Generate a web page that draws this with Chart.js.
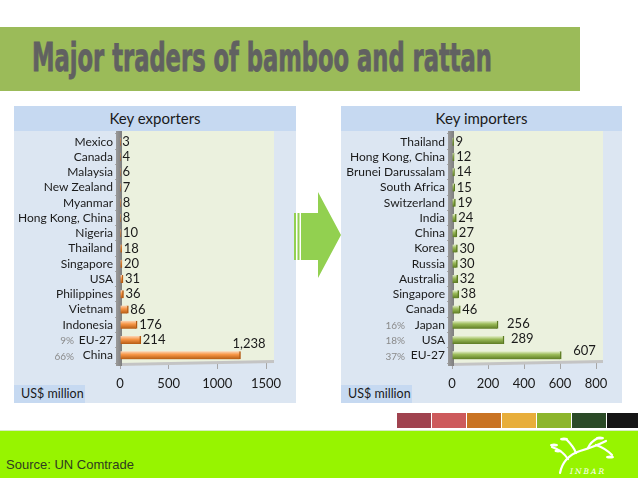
<!DOCTYPE html>
<html lang="en">
<head>
<meta charset="UTF-8">
<title>Major traders of bamboo and rattan</title>
<script src="https://cdn.jsdelivr.net/npm/chart.js"></script>
<style>
  body {
    margin: 0;
    width: 638px;
    height: 478px;
    overflow: hidden;
    position: relative;
    background: #fff;
    font-family: Lato, sans-serif;
  }
  .banner {
    position: absolute;
    left: 0; top: 27px;
    width: 580px; height: 64px;
    background: #9bbb59;
  }
  .title {
    position: absolute;
    left: 32px; top: 38px;
    font-family: 'DejaVu Sans Condensed', sans-serif;
    font-weight: bold;
    font-size: 39px;
    line-height: 1;
    color: #616161;
    white-space: nowrap;
    transform-origin: left top;
    -webkit-text-stroke: 0.8px #616161;
  }
  .panel {
    position: absolute;
    top: 106px;
    height: 297px;
    background: #dce6f2;
  }
  .panel h3 {
    margin: 0;
    height: 25px;
    line-height: 25px;
    background: #c6d9f1;
    text-align: center;
    font-weight: normal;
    font-size: 15px;
    color: #1a1a1a;
  }
  .box {
    position: absolute;
    left: 0; top: 25px;
    height: 272px;
  }
  .unit {
    position: absolute;
    left: 0; bottom: 0;
    width: 71px; height: 18px;
    padding-left: 7px;
    box-sizing: border-box;
    background: #c6d9f1;
    font-size: 12.5px;
    line-height: 18px;
    white-space: nowrap;
    color: #1a1a1a;
  }
  .swatch {
    position: absolute;
    top: 413px;
    height: 15px;
    width: 34px;
  }
  .footer {
    position: absolute;
    left: 0; top: 430px;
    width: 638px; height: 48px;
    background: #97f400;
    border-top: 1px solid #d6ecc0;
  }
  .source {
    position: absolute;
    left: 6px; top: 26px;
    font-family: 'Liberation Sans', Arial, sans-serif;
    font-size: 13px;
    color: #2f3b20;
  }
</style>
</head>
<body>
  <div class="banner"></div>
  <div class="title" id="title">Major traders of bamboo and rattan</div>

  <div class="panel" style="left:14px; width:282px;">
    <h3>Key exporters</h3>
    <div class="box" style="width:282px;"><canvas id="exportChart"></canvas></div>
    <div class="unit">US$ million</div>
  </div>

  <svg style="position:absolute; left:292px; top:190px;" width="52" height="92">
    <rect x="2" y="23" width="2" height="47" fill="#92d050"/>
    <rect x="5.5" y="23" width="2" height="47" fill="#92d050"/>
    <polygon points="9,23 26,23 26,2 49,45 26,88 26,70 9,70" fill="#92d050"/>
  </svg>

  <div class="panel" style="left:341px; width:281px;">
    <h3>Key importers</h3>
    <div class="box" style="width:281px;"><canvas id="importChart"></canvas></div>
    <div class="unit">US$ million</div>
  </div>

  <div class="swatch" style="left:397px; background:#a0434f;"></div>
  <div class="swatch" style="left:432px; background:#cd5a5c;"></div>
  <div class="swatch" style="left:467px; background:#c97323;"></div>
  <div class="swatch" style="left:502px; background:#e8ae3b;"></div>
  <div class="swatch" style="left:537px; background:#8db52c;"></div>
  <div class="swatch" style="left:572px; background:#2b4a27;"></div>
  <div class="swatch" style="left:607px; width:31px; background:#151515;"></div>

  <div class="footer">
    <div class="source">Source: UN Comtrade</div>
    <svg style="position:absolute; left:546px; top:4px;" width="70" height="42">
      <g stroke="#fff" stroke-width="2.2" fill="none" stroke-linecap="round">
        <path d="M14 38 C16 28 22 20 34 16 C44 13 52 10 60 6"/>
        <path d="M22 24 C18 18 12 14 6 12"/>
        <path d="M30 18 C28 12 24 8 20 4"/>
        <path d="M42 13 C44 8 48 5 52 3"/>
        <path d="M50 10 C56 12 62 16 66 20"/>
      </g>
      <g fill="#fff">
        <ellipse cx="8" cy="10" rx="4" ry="1.6"/>
        <ellipse cx="18" cy="4" rx="4" ry="1.6"/>
        <ellipse cx="54" cy="3" rx="4" ry="1.6"/>
        <ellipse cx="64" cy="22" rx="4" ry="1.6"/>
        <ellipse cx="12" cy="16" rx="3.5" ry="1.4"/>
      </g>
      <text x="24" y="39" fill="#fff" font-family="'DejaVu Serif', serif" font-style="italic" font-size="7.5" letter-spacing="2">INBAR</text>
    </svg>
  </div>

<script>
  // exporters, top to bottom
  const exporters = ['Mexico', 'Canada', 'Malaysia', 'New Zealand', 'Myanmar', 'Hong Kong, China',
    'Nigeria', 'Thailand', 'Singapore', 'USA', 'Philippines', 'Vietnam', 'Indonesia', 'EU-27', 'China'];
  const exportValues = [3, 4, 6, 7, 8, 8, 10, 18, 20, 31, 36, 86, 176, 214, 1238];
  const exportShares = ['', '', '', '', '', '', '', '', '', '', '', '', '', '9%', '66%'];
  const exportTicks = [0, 500, 1000, 1500];

  // importers, top to bottom
  const importers = ['Thailand', 'Hong Kong, China', 'Brunei Darussalam', 'South Africa', 'Switzerland',
    'India', 'China', 'Korea', 'Russia', 'Australia', 'Singapore', 'Canada', 'Japan', 'USA', 'EU-27'];
  const importValues = [9, 12, 14, 15, 19, 24, 27, 30, 30, 32, 38, 46, 256, 289, 607];
  const importShares = ['', '', '', '', '', '', '', '', '', '', '', '', '16%', '18%', '37%'];
  const importTicks = [0, 200, 400, 600, 800];

  // squeeze the title into the banner
  const title = document.getElementById('title');
  title.style.transform = 'scaleX(' + (460 / title.offsetWidth) + ')';

  const panelDecor = {
    id: 'panelDecor',
    beforeDatasetsDraw(chart, args, opts) {
      const ctx = chart.ctx;
      const a = chart.chartArea;
      ctx.save();
      // back wall
      ctx.fillStyle = '#ebf1de';
      ctx.fillRect(a.left, 0, opts.greenRight - a.left, a.bottom);
      // floor
      ctx.fillStyle = '#c4c4c4';
      ctx.beginPath();
      ctx.moveTo(a.left, a.bottom);
      ctx.lineTo(opts.greenRight, a.bottom - 3);
      ctx.lineTo(opts.greenRight, a.bottom);
      ctx.lineTo(a.left - 3, a.bottom + 3);
      ctx.closePath();
      ctx.fill();
      // side wall
      const g = ctx.createLinearGradient(a.left - 4, 0, a.left + 3, 0);
      g.addColorStop(0, '#9a9a9a');
      g.addColorStop(1, '#7a7a7a');
      ctx.fillStyle = g;
      ctx.fillRect(a.left - 4, 0, 6, a.bottom + 3);
      ctx.restore();
    },
    afterDatasetsDraw(chart, args, opts) {
      const ctx = chart.ctx;
      const meta = chart.getDatasetMeta(0);
      const values = chart.data.datasets[0].data;
      ctx.save();
      ctx.textBaseline = 'middle';
      meta.data.forEach((bar, i) => {
        const shift = opts.labelShift[i] || [2, 0];
        ctx.font = '13px Lato, sans-serif';
        ctx.fillStyle = '#1a1a1a';
        ctx.textAlign = 'left';
        ctx.fillText(values[i].toLocaleString('en-US'), bar.x + shift[0], bar.y + shift[1]);
        if (opts.shares[i]) {
          ctx.font = '10px Lato, sans-serif';
          ctx.fillStyle = '#8a8a8a';
          ctx.textAlign = 'right';
          ctx.fillText(opts.shares[i], opts.shareX, bar.y + 1);
        }
      });
      ctx.restore();
    }
  };

  function barFill(colors) {
    return function (c) {
      const chart = c.chart;
      if (!chart.chartArea || c.dataIndex === undefined) return colors[1];
      const y = chart.scales.y.getPixelForValue(c.dataIndex);
      const g = chart.ctx.createLinearGradient(0, y - 4, 0, y + 4);
      g.addColorStop(0, colors[0]);
      g.addColorStop(0.4, colors[1]);
      g.addColorStop(1, colors[2]);
      return g;
    };
  }

  function makeChart(id, labels, values, shares, ticks, colors, layout) {
    return new Chart(document.getElementById(id), {
      type: 'bar',
      data: {
        labels: labels,
        datasets: [{
          data: values,
          backgroundColor: barFill(colors),
          borderColor: colors[2],
          borderWidth: { top: 0, bottom: 0, left: 0, right: 1.5 },
          borderSkipped: false,
          barThickness: 8
        }]
      },
      options: {
        indexAxis: 'y',
        responsive: true,
        maintainAspectRatio: false,
        animation: false,
        layout: { padding: { top: 3, right: layout.padRight, left: 0, bottom: 0 } },
        plugins: {
          legend: { display: false },
          tooltip: { enabled: false },
          panelDecor: {
            greenRight: layout.greenRight,
            shareX: layout.shareX,
            shares: shares,
            labelShift: layout.labelShift
          }
        },
        scales: {
          x: {
            min: ticks[0],
            max: ticks[ticks.length - 1],
            afterBuildTicks: s => { s.ticks = ticks.map(v => ({ value: v })); },
            afterFit: s => { s.height = 40; s.paddingLeft = 0; s.paddingRight = 0; },
            border: { display: false },
            grid: { drawOnChartArea: false, tickLength: 6, color: '#a6a6a6' },
            ticks: { padding: 7, color: '#1a1a1a', font: { family: 'Lato', size: 13 }, callback: v => String(v) }
          },
          y: {
            afterFit: s => { s.width = layout.axisWidth; s.paddingTop = 0; s.paddingBottom = 0; },
            border: { display: false },
            grid: { drawOnChartArea: false, offset: true, tickLength: 5, color: '#a6a6a6' },
            ticks: { padding: 2, color: '#1a1a1a', autoSkip: false, font: { family: 'Lato', size: 12 } }
          }
        }
      },
      plugins: [panelDecor]
    });
  }

  makeChart('exportChart', exporters, exportValues, exportShares, exportTicks,
    ['#fcd5b4', '#f79646', '#b35a12'],
    { axisWidth: 106, padRight: 30, greenRight: 260, shareX: 60, labelShift: { 14: [-8, -12] } });

  makeChart('importChart', importers, importValues, importShares, importTicks,
    ['#e2edc8', '#9bbb59', '#5c7a22'],
    { axisWidth: 111, padRight: 26, greenRight: 262, shareX: 64,
      labelShift: { 12: [9, -1], 13: [7, -1], 14: [12, -5] } });
</script>
</body>
</html>
